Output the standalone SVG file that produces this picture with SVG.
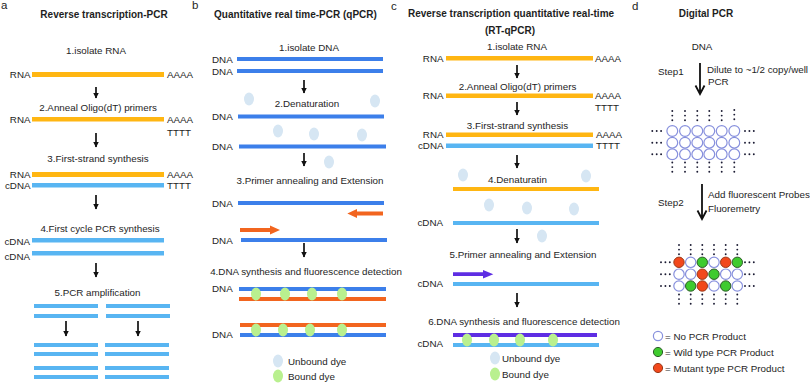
<svg xmlns="http://www.w3.org/2000/svg" width="810" height="384" viewBox="0 0 810 384">
<defs>
<style>
text{font-family:"Liberation Sans",Arial,sans-serif;font-size:9.8px;fill:#1e1e1e}
.ti{font-weight:bold;font-size:10px}
.pl{font-size:11.5px}
.m{text-anchor:middle}
.e{text-anchor:end}
.or{fill:#FFB612}
.lb{fill:#58B5F2}
.db{fill:#3C7FEA}
.rd{fill:#F2651F}
.pu{fill:#5E2DE3}
.ub{fill:#D6E6F3}
.bd{fill:#B9F08F}
.ar{stroke:#111;stroke-width:1.7;fill:none}
.va{stroke:#111;stroke-width:1.8;fill:none}
.cw{fill:#fff;stroke:#8790DD;stroke-width:1.2}
.cg{fill:#3FCB2E;stroke:#2E5A2A;stroke-width:1}
.cr{fill:#F2481C;stroke:#9A3A1A;stroke-width:1}
.dt{fill:#1b1b33}
</style>
<marker id="ah" markerUnits="userSpaceOnUse" markerWidth="6" markerHeight="6" refX="5.5" refY="3" orient="auto">
<path d="M0,0 L6,3 L0,6 z" fill="#111"/>
</marker>
<g id="dotsCol"><circle r="0.95" cy="0" class="dt"/><circle r="0.95" cy="4.6" class="dt"/><circle r="0.95" cy="9.2" class="dt"/></g>
<g id="dotsRow"><circle r="0.95" cx="0" class="dt"/><circle r="0.95" cx="4.4" class="dt"/><circle r="0.95" cx="8.8" class="dt"/></g>
</defs>
<rect width="810" height="384" fill="#fff"/>

<!-- Panel labels -->
<text x="1" y="9" class="pl">a</text>
<text x="192" y="9" class="pl">b</text>
<text x="391" y="9.5" class="pl">c</text>
<text x="632" y="10" class="pl">d</text>

<!-- ===== Panel a ===== -->
<g id="a-title"><text x="104" y="18" class="ti m">Reverse transcription-PCR</text></g>
<g id="a-step1">
<text x="96" y="54" class="m">1.isolate RNA</text>
<rect x="32" y="72" width="132" height="5" class="or"/>
<text x="30.5" y="78" class="e">RNA</text><text x="167" y="78">AAAA</text>
</g>
<g id="a-step2">
<text x="98" y="111" class="m">2.Anneal Oligo(dT) primers</text>
<rect x="32" y="117" width="132" height="4.5" class="or"/>
<text x="30.5" y="122.5" class="e">RNA</text><text x="167" y="122.5">AAAA</text>
<text x="167" y="136">TTTT</text>
</g>
<g id="a-step3">
<text x="98" y="162" class="m">3.First-strand synthesis</text>
<rect x="32" y="172" width="132" height="5" class="or"/>
<rect x="32" y="183" width="132" height="4.5" class="lb"/>
<text x="30.5" y="177.5" class="e">RNA</text><text x="167" y="177.5">AAAA</text>
<text x="30.5" y="189" class="e">cDNA</text><text x="167" y="189">TTTT</text>
</g>
<g id="a-step4">
<text x="100" y="232" class="m">4.First cycle PCR synthesis</text>
<rect x="32" y="238" width="132" height="4.5" class="lb"/>
<rect x="32" y="251" width="132" height="4.5" class="lb"/>
<text x="30" y="245" class="e">cDNA</text>
<text x="30" y="260" class="e">cDNA</text>
</g>
<g id="a-step5">
<text x="97.5" y="296" class="m">5.PCR amplification</text>
<rect x="34" y="304" width="64" height="4" class="lb"/>
<rect x="34" y="314" width="64" height="4" class="lb"/>
<rect x="106" y="304" width="64" height="4" class="lb"/>
<rect x="106" y="314" width="64" height="4" class="lb"/>
</g>
<g id="a-result">
<rect x="34" y="343" width="64" height="4" class="lb"/>
<rect x="34" y="352" width="64" height="4" class="lb"/>
<rect x="34" y="366" width="64" height="4" class="lb"/>
<rect x="34" y="375" width="64" height="4" class="lb"/>
<rect x="105" y="343" width="64" height="4" class="lb"/>
<rect x="105" y="352" width="64" height="4" class="lb"/>
<rect x="105" y="366" width="64" height="4" class="lb"/>
<rect x="105" y="375" width="64" height="4" class="lb"/>
</g>

<!-- ===== Panel b ===== -->
<g id="b-title"><text x="295.5" y="18" class="ti m">Quantitative real time-PCR (qPCR)</text></g>
<g id="b-step1">
<text x="309" y="51" class="m">1.isolate DNA</text>
<rect x="237" y="57" width="146" height="4" class="db"/>
<rect x="237" y="69" width="146" height="4" class="db"/>
<text x="212" y="63">DNA</text>
<text x="212" y="75">DNA</text>
</g>
<g id="b-step2">
<ellipse cx="249" cy="99" rx="5" ry="6.5" class="ub"/>
<ellipse cx="375" cy="101" rx="5" ry="6.5" class="ub"/>
<text x="307" y="107" class="m">2.Denaturation</text>
<rect x="238" y="114.5" width="146" height="4" class="db"/>
<text x="212" y="120">DNA</text>
<ellipse cx="278" cy="131" rx="5" ry="6.5" class="ub"/>
<ellipse cx="314" cy="134" rx="5" ry="6.5" class="ub"/>
<ellipse cx="362" cy="135" rx="5" ry="6.5" class="ub"/>
<rect x="239" y="144.5" width="147" height="4" class="db"/>
<text x="212" y="150">DNA</text>
<ellipse cx="329" cy="162" rx="5" ry="6.5" class="ub"/>
</g>
<g id="b-step3">
<text x="310" y="184" class="m">3.Primer annealing and Extension</text>
<rect x="238" y="201" width="146" height="4" class="db"/>
<text x="212" y="206.5">DNA</text>
<path d="M383,211.5 H357 V209 L347.3,213.5 L357,218 V215.5 H383 Z" class="rd"/>
<path d="M240,228 H270 V225.5 L280,230 L270,234.5 V232 H240 Z" class="rd"/>
<rect x="241" y="238" width="146" height="4" class="db"/>
<text x="212" y="243.5">DNA</text>
</g>
<g id="b-step4">
<text x="306" y="275" class="m">4.DNA synthesis and fluorescence detection</text>
<rect x="239" y="287" width="147" height="4" class="db"/>
<rect x="239" y="297" width="147" height="4" class="rd"/>
<ellipse cx="256" cy="294" rx="5" ry="6.5" class="bd"/>
<ellipse cx="285" cy="294" rx="5" ry="6.5" class="bd"/>
<ellipse cx="312" cy="294" rx="5" ry="6.5" class="bd"/>
<ellipse cx="342" cy="294" rx="5" ry="6.5" class="bd"/>
<text x="212" y="292">DNA</text>
<rect x="240" y="323" width="146" height="4" class="rd"/>
<rect x="240" y="333" width="146" height="4" class="db"/>
<ellipse cx="256" cy="330" rx="5" ry="6.5" class="bd"/>
<ellipse cx="283" cy="330" rx="5" ry="6.5" class="bd"/>
<ellipse cx="310" cy="330" rx="5" ry="6.5" class="bd"/>
<ellipse cx="342" cy="330" rx="5" ry="6.5" class="bd"/>
<text x="212" y="338">DNA</text>
</g>
<g id="b-legend">
<ellipse cx="278" cy="361" rx="5" ry="6.5" class="ub"/>
<text x="288" y="365">Unbound dye</text>
<ellipse cx="278" cy="376" rx="5" ry="6.5" class="bd"/>
<text x="288" y="380">Bound dye</text>
</g>

<!-- ===== Panel c ===== -->
<g id="c-title">
<text x="511" y="17" class="ti m">Reverse transcription quantitative real-time</text>
<text x="510" y="34" class="ti m">(RT-qPCR)</text>
</g>
<g id="c-step1">
<text x="517" y="50" class="m">1.isolate RNA</text>
<rect x="446" y="56" width="147" height="4.5" class="or"/>
<text x="443.5" y="62" class="e">RNA</text><text x="595" y="62">AAAA</text>
</g>
<g id="c-step2">
<text x="517.5" y="90" class="m">2.Anneal Oligo(dT) primers</text>
<rect x="446" y="93.5" width="147" height="4.5" class="or"/>
<text x="443.5" y="99" class="e">RNA</text><text x="595" y="99">AAAA</text>
<text x="595" y="111">TTTT</text>
</g>
<g id="c-step3">
<text x="517.5" y="129" class="m">3.First-strand synthesis</text>
<rect x="446" y="132.5" width="147" height="4.5" class="or"/>
<rect x="446" y="143.5" width="147" height="4.5" class="lb"/>
<text x="443.5" y="138" class="e">RNA</text><text x="596" y="138">AAAA</text>
<text x="443.5" y="149" class="e">cDNA</text><text x="596" y="149">TTTT</text>
</g>
<g id="c-step4">
<ellipse cx="463" cy="175" rx="5" ry="6.5" class="ub"/>
<ellipse cx="586" cy="176" rx="5" ry="6.5" class="ub"/>
<text x="517.5" y="183" class="m">4.Denaturatin</text>
<rect x="453" y="187" width="146" height="4" class="or"/>
<ellipse cx="489" cy="205" rx="5" ry="6.5" class="ub"/>
<ellipse cx="527" cy="208" rx="5" ry="6.5" class="ub"/>
<ellipse cx="574" cy="209" rx="5" ry="6.5" class="ub"/>
<rect x="453" y="221" width="146" height="4" class="lb"/>
<text x="443" y="226" class="e">cDNA</text>
<ellipse cx="542" cy="236" rx="5" ry="6.5" class="ub"/>
</g>
<g id="c-step5">
<text x="523" y="258" class="m">5.Primer annealing and Extension</text>
<path d="M453,272.3 H483 V270 L493.3,274.2 L483,278.4 V276.1 H453 Z" class="pu"/>
<rect x="453" y="282" width="146" height="4" class="lb"/>
<text x="443" y="287" class="e">cDNA</text>
</g>
<g id="c-step6">
<text x="524" y="325" class="m">6.DNA synthesis and fluorescence detection</text>
<rect x="453" y="333" width="144" height="4" class="pu"/>
<rect x="453" y="343" width="146" height="4" class="lb"/>
<ellipse cx="467" cy="340" rx="5" ry="6.5" class="bd"/>
<ellipse cx="494" cy="340" rx="5" ry="6.5" class="bd"/>
<ellipse cx="520" cy="340" rx="5" ry="6.5" class="bd"/>
<ellipse cx="553" cy="340" rx="5" ry="6.5" class="bd"/>
<text x="443" y="347" class="e">cDNA</text>
</g>
<g id="c-legend">
<ellipse cx="495" cy="358" rx="5" ry="6.5" class="ub"/>
<text x="502" y="362">Unbound dye</text>
<ellipse cx="495" cy="374" rx="5" ry="6.5" class="bd"/>
<text x="502" y="378">Bound dye</text>
</g>

<!-- ===== Panel d ===== -->
<g id="d-title"><text x="706" y="17" class="ti m">Digital PCR</text></g>
<g id="d-dna"><text x="702" y="50" class="m">DNA</text></g>
<g id="d-step1">
<text x="658" y="75">Step1</text>
<text x="707" y="73">Dilute to ~1/2 copy/well</text>
<text x="708" y="85">PCR</text>
</g>
<g id="d-plate1">
<use href="#dotsCol" x="672.3" y="111"/><use href="#dotsCol" x="685" y="111"/><use href="#dotsCol" x="697.3" y="111"/>
<use href="#dotsCol" x="709.3" y="111"/><use href="#dotsCol" x="721.7" y="111"/><use href="#dotsCol" x="734.3" y="110"/>
<use href="#dotsCol" x="672.3" y="162.5"/><use href="#dotsCol" x="685" y="162.5"/><use href="#dotsCol" x="697.3" y="162.5"/>
<use href="#dotsCol" x="709.3" y="162.5"/><use href="#dotsCol" x="721.7" y="162.5"/><use href="#dotsCol" x="734.3" y="162.5"/>
<use href="#dotsRow" x="652.3" y="131"/><use href="#dotsRow" x="652.3" y="142.7"/><use href="#dotsRow" x="652.3" y="154.3"/>
<use href="#dotsRow" x="745" y="131"/><use href="#dotsRow" x="745" y="142.7"/><use href="#dotsRow" x="745" y="154.3"/>
<g class="cw">
<circle cx="672.3" cy="131" r="5.4"/><circle cx="685" cy="131" r="5.4"/><circle cx="697.3" cy="131" r="5.4"/><circle cx="709.3" cy="131" r="5.4"/><circle cx="721.7" cy="131" r="5.4"/><circle cx="734.3" cy="131" r="5.4"/>
<circle cx="672.3" cy="142.7" r="5.4"/><circle cx="685" cy="142.7" r="5.4"/><circle cx="697.3" cy="142.7" r="5.4"/><circle cx="709.3" cy="142.7" r="5.4"/><circle cx="721.7" cy="142.7" r="5.4"/><circle cx="734.3" cy="142.7" r="5.4"/>
<circle cx="672.3" cy="154.3" r="5.4"/><circle cx="685" cy="154.3" r="5.4"/><circle cx="697.3" cy="154.3" r="5.4"/><circle cx="709.3" cy="154.3" r="5.4"/><circle cx="721.7" cy="154.3" r="5.4"/><circle cx="734.3" cy="154.3" r="5.4"/>
</g>
</g>
<g id="d-step2">
<text x="658" y="206">Step2</text>
<text x="708" y="198">Add fluorescent Probes</text>
<text x="708" y="212">Fluoremetry</text>
</g>
<g id="d-plate2">
<use href="#dotsCol" x="679" y="245"/><use href="#dotsCol" x="690.7" y="245"/><use href="#dotsCol" x="702.3" y="245"/>
<use href="#dotsCol" x="714" y="245"/><use href="#dotsCol" x="725.7" y="245"/><use href="#dotsCol" x="737.3" y="245"/>
<use href="#dotsCol" x="679" y="294.5"/><use href="#dotsCol" x="690.7" y="294.5"/><use href="#dotsCol" x="702.3" y="294.5"/>
<use href="#dotsCol" x="714" y="294.5"/><use href="#dotsCol" x="725.7" y="294.5"/><use href="#dotsCol" x="737.3" y="294.5"/>
<use href="#dotsRow" x="661" y="262.3"/><use href="#dotsRow" x="661" y="274.2"/><use href="#dotsRow" x="661" y="286"/>
<use href="#dotsRow" x="745" y="262.3"/><use href="#dotsRow" x="745" y="274.2"/><use href="#dotsRow" x="745" y="286"/>
<circle cx="679" cy="262.3" r="5.2" class="cr"/><circle cx="690.7" cy="262.3" r="5.2" class="cw"/><circle cx="702.3" cy="262.3" r="5.2" class="cg"/><circle cx="714" cy="262.3" r="5.2" class="cw"/><circle cx="725.7" cy="262.3" r="5.2" class="cr"/><circle cx="737.3" cy="262.3" r="5.2" class="cg"/>
<circle cx="679" cy="274.2" r="5.2" class="cw"/><circle cx="690.7" cy="274.2" r="5.2" class="cw"/><circle cx="702.3" cy="274.2" r="5.2" class="cr"/><circle cx="714" cy="274.2" r="5.2" class="cg"/><circle cx="725.7" cy="274.2" r="5.2" class="cw"/><circle cx="737.3" cy="274.2" r="5.2" class="cw"/>
<circle cx="679" cy="286" r="5.2" class="cw"/><circle cx="690.7" cy="286" r="5.2" class="cg"/><circle cx="702.3" cy="286" r="5.2" class="cr"/><circle cx="714" cy="286" r="5.2" class="cw"/><circle cx="725.7" cy="286" r="5.2" class="cg"/><circle cx="737.3" cy="286" r="5.2" class="cw"/>
</g>
<g id="d-legend">
<circle cx="658" cy="336" r="4.6" class="cw"/><text x="665" y="339.5">= No PCR Product</text>
<circle cx="658" cy="352" r="4.6" class="cg"/><text x="665" y="355.5">= Wild type PCR Product</text>
<circle cx="658" cy="368" r="4.6" class="cr"/><text x="665" y="371.5">= Mutant type PCR Product</text>
</g>

<!-- ===== Connectors ===== -->
<g id="connectors">
<line x1="96" y1="87" x2="96" y2="98" class="ar" marker-end="url(#ah)"/>
<line x1="96" y1="133" x2="96" y2="147" class="ar" marker-end="url(#ah)"/>
<line x1="96" y1="195" x2="96" y2="209" class="ar" marker-end="url(#ah)"/>
<line x1="96" y1="263" x2="96" y2="277" class="ar" marker-end="url(#ah)"/>
<line x1="66" y1="321" x2="66" y2="336" class="ar" marker-end="url(#ah)"/>
<line x1="138" y1="321" x2="138" y2="336" class="ar" marker-end="url(#ah)"/>
<line x1="304" y1="80" x2="304" y2="93" class="ar" marker-end="url(#ah)"/>
<line x1="304" y1="153" x2="304" y2="166" class="ar" marker-end="url(#ah)"/>
<line x1="304" y1="243" x2="304" y2="257" class="ar" marker-end="url(#ah)"/>
<line x1="517" y1="65" x2="517" y2="78" class="ar" marker-end="url(#ah)"/>
<line x1="517" y1="102" x2="517" y2="115" class="ar" marker-end="url(#ah)"/>
<line x1="517" y1="155" x2="517" y2="168" class="ar" marker-end="url(#ah)"/>
<line x1="517" y1="229" x2="517" y2="243" class="ar" marker-end="url(#ah)"/>
<line x1="517" y1="293" x2="517" y2="307" class="ar" marker-end="url(#ah)"/>
<path d="M700,63 V94 M695.5,85.5 L700,94 L704.5,85.5" class="va"/>
<path d="M702,184 V219 M697.5,210.5 L702,219 L706.5,210.5" class="va"/>
</g>
</svg>
